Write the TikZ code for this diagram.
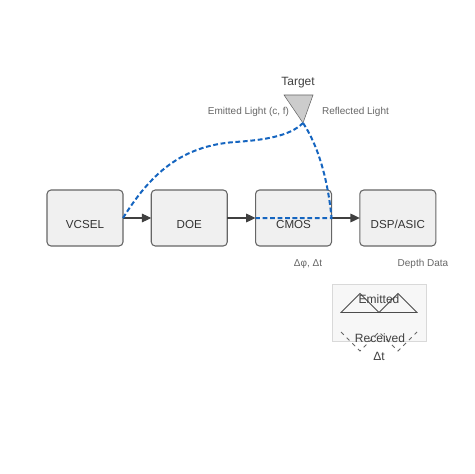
\documentclass[tikz,border=0pt]{standalone}
\usepackage{fontspec}
\setmainfont{Liberation Sans}
\usetikzlibrary{arrows.meta,positioning}
\definecolor{fenykek}{HTML}{1565C0}
\tikzset{
  dob/.style={draw=black!60,thick,fill=black!6,rounded corners=3pt,minimum width=57pt,minimum height=42pt,
    inner sep=0pt,outer sep=0pt,text=black!80,font=\fontsize{8.7}{11}\selectfont,text depth=0pt},
  nyil/.style={-{Triangle[length=7pt,width=6.5pt]},draw=black!75,thick},
  feny/.style={draw=fenykek,line width=1.5pt,dash pattern=on 3.6pt off 2pt},
  cimke/.style={text=black!60,font=\fontsize{7.5}{9}\selectfont},
  felirat/.style={text=black!75,font=\fontsize{9}{11}\selectfont},
  hullam/.style={draw=black!70,line width=0.55pt},
}
\begin{document}
\begin{tikzpicture}[x=0.75pt,y=-0.75pt]
  \useasboundingbox (0,0) rectangle (474,474);
  % blocks
  \node[dob] (vcsel) at (85,218) {\raisebox{-8pt}{VCSEL}};
  \node[dob,right=21.2pt of vcsel] (doe) {\raisebox{-8pt}{DOE}};
  \node[dob,right=21.2pt of doe] (cmos) {\raisebox{-8pt}{CMOS}};
  \node[dob,right=21.2pt of cmos] (dsp) {\raisebox{-8pt}{DSP/ASIC}};
  \draw[nyil] (vcsel) -- (doe);
  \draw[nyil] (doe) -- (cmos);
  \draw[nyil] (cmos) -- (dsp);
  % target
  \coordinate (tip) at (303,123);
  \draw[draw=black!60,fill=black!20] (284,95) -- (313,95) -- (tip) -- cycle;
  \node[felirat] (target) at (298,83) {Target};
  \node[cimke] (emit) at (248.5,112) {Emitted Light (c, f)};
  \node[cimke] (refl) at (355.5,112) {Reflected Light};
  % light path
  \draw[feny] (vcsel.east) .. controls (150,175) and (180,146) .. (235,142)
    .. controls (265,140) and (290,136) .. (tip);
  \draw[feny] (tip) .. controls (318,145) and (328,180) .. (cmos.east) -- (cmos.west);
  \node[cimke] (phase) at (308,264) {Δφ, Δt};
  \node[cimke] (depth) at (423,264) {Depth Data};
  % inset
  \draw[draw=black!15,fill=black!3] (332,284) rectangle (426,341);
  \draw[hullam] (341,312.5) -- (360,293.5) -- (379,312.5) -- (398,293.5) -- (417,312.5) -- cycle;
  \draw[hullam,draw=black!60,dashed] (341,332) -- (360,351) -- (379,332) -- (398,351) -- (417,332);
  \node[felirat] (emitted) at (379,299.5) {Emitted};
  \node[felirat] (received) at (380,338.5) {Received};
  \node[felirat] (dt) at (379,356.5) {Δt};
\end{tikzpicture}
\end{document}
